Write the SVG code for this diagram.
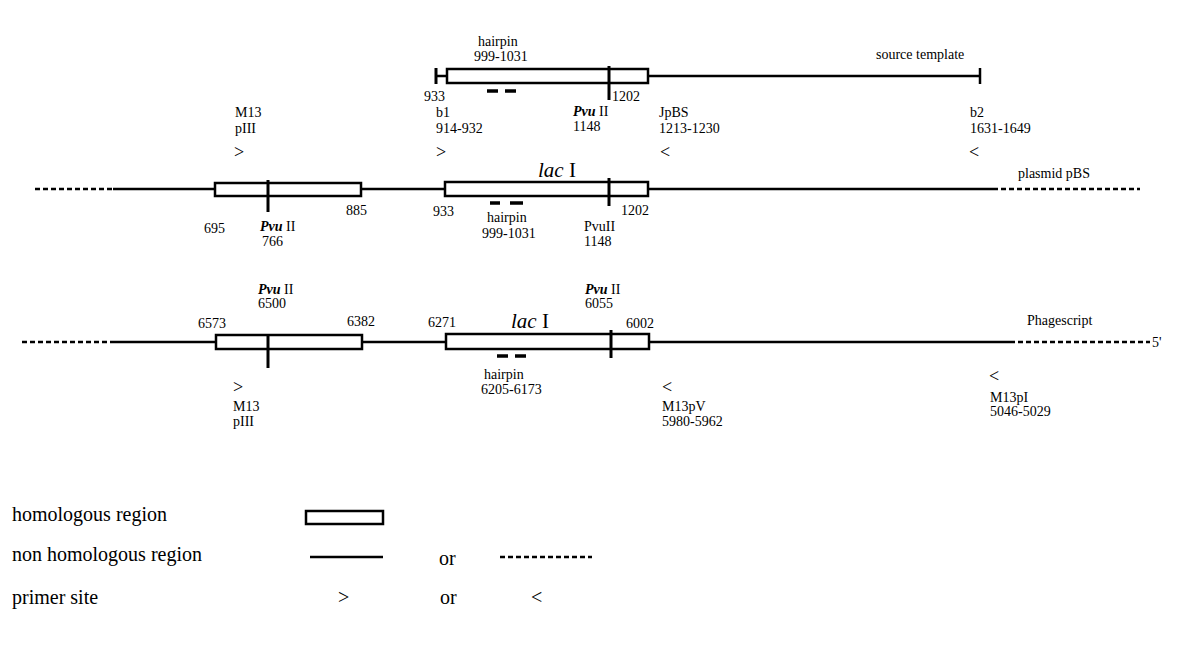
<svg xmlns="http://www.w3.org/2000/svg" width="1193" height="655" viewBox="0 0 1193 655">
<style>
text{font-family:"Liberation Serif",serif;font-size:14px;fill:#000}
.s{stroke:#000;stroke-width:2.5;fill:none}
.d{stroke:#000;stroke-width:2.5;stroke-dasharray:5,3;fill:none}
.b{stroke:#000;stroke-width:2.5;fill:#fff}
.v{stroke:#000;stroke-width:3}
.h{stroke:#000;stroke-width:3.5}
.lg{font-size:20px}
.pr{font-size:18px}
.lac{font-size:21px}
</style>
<rect width="1193" height="655" fill="#fff"/>
<g id="connectors">
<line class="s" x1="436" y1="76" x2="980" y2="76"/>
<line class="v" x1="436" y1="68" x2="436" y2="84"/>
<line class="s" x1="980" y1="68" x2="980" y2="84"/>
<line class="s" x1="113" y1="189" x2="993" y2="189"/>
<line class="d" x1="35" y1="189" x2="113" y2="189"/>
<line class="d" x1="993" y1="189" x2="1140" y2="189"/>
<line class="s" x1="113" y1="342" x2="1010" y2="342"/>
<line class="d" x1="22" y1="342" x2="113" y2="342"/>
<line class="d" x1="1010" y1="342" x2="1150" y2="342"/>
</g>
<g id="source-template">
<rect class="b" x="447" y="69" width="201" height="14"/>
<line class="v" x1="609" y1="66" x2="609" y2="100"/>
<line class="h" x1="487" y1="91" x2="498" y2="91"/><line class="h" x1="505" y1="91" x2="516" y2="91"/>
<text x="478" y="46">hairpin</text><text x="474" y="61">999-1031</text>
<text x="424" y="101">933</text><text x="612" y="101">1202</text>
<text x="876" y="59">source template</text>
</g>
<g id="primers-top">
<text x="235" y="117">M13</text><text x="235" y="133">pIII</text><text class="pr" x="234" y="158">&gt;</text>
<text x="436" y="117">b1</text><text x="436" y="133">914-932</text><text class="pr" x="436" y="158">&gt;</text>
<text x="573" y="116"><tspan font-style="italic" font-weight="bold">Pvu</tspan> II</text><text x="573" y="131">1148</text>
<text x="659" y="117">JpBS</text><text x="659" y="133">1213-1230</text><text class="pr" x="660" y="158">&lt;</text>
<text x="970" y="117">b2</text><text x="970" y="133">1631-1649</text><text class="pr" x="969" y="158">&lt;</text>
</g>
<g id="plasmid">
<rect class="b" x="215" y="183" width="146" height="13"/>
<line class="v" x1="268" y1="180" x2="268" y2="212"/>
<rect class="b" x="445" y="182" width="203" height="14"/>
<line class="v" x1="609" y1="178" x2="609" y2="206"/>
<line class="h" x1="490" y1="203" x2="500" y2="203"/><line class="h" x1="510" y1="203" x2="523" y2="203"/>
<text class="lac" x="538" y="177"><tspan font-style="italic">lac</tspan> I</text>
<text x="204" y="233">695</text><text x="260" y="231"><tspan font-style="italic" font-weight="bold">Pvu</tspan> II</text><text x="262" y="246">766</text>
<text x="346" y="215">885</text><text x="433" y="216">933</text>
<text x="487" y="222">hairpin</text><text x="482" y="238">999-1031</text>
<text x="621" y="215">1202</text><text x="584" y="231">PvuII</text><text x="584" y="246">1148</text>
<text x="1018" y="178">plasmid pBS</text>
</g>
<g id="phagescript">
<rect class="b" x="216" y="335" width="146" height="14"/>
<line class="v" x1="268" y1="335" x2="268" y2="368"/>
<rect class="b" x="446" y="334" width="203" height="15"/>
<line class="v" x1="611" y1="330" x2="611" y2="358"/>
<line class="h" x1="497" y1="356" x2="508" y2="356"/><line class="h" x1="515" y1="356" x2="526" y2="356"/>
<text x="258" y="294"><tspan font-style="italic" font-weight="bold">Pvu</tspan> II</text><text x="258" y="308">6500</text>
<text x="198" y="328">6573</text><text x="347" y="326">6382</text><text x="428" y="327">6271</text>
<text class="lac" x="511" y="328"><tspan font-style="italic">lac</tspan> I</text>
<text x="585" y="294"><tspan font-style="italic" font-weight="bold">Pvu</tspan> II</text><text x="585" y="308">6055</text>
<text x="626" y="328">6002</text>
<text x="1027" y="325">Phagescript</text><text x="1152" y="347">5'</text>
<text x="484" y="379">hairpin</text><text x="481" y="394">6205-6173</text>
<text class="pr" x="233" y="393">&gt;</text><text x="233" y="411">M13</text><text x="233" y="426">pIII</text>
<text class="pr" x="662" y="393">&lt;</text><text x="662" y="411">M13pV</text><text x="662" y="426">5980-5962</text>
<text class="pr" x="989" y="382">&lt;</text><text x="990" y="402">M13pI</text><text x="990" y="416">5046-5029</text>
</g>
<g id="legend">
<text class="lg" x="12" y="521">homologous region</text>
<rect class="b" x="306" y="511" width="77" height="13"/>
<text class="lg" x="12" y="561">non homologous region</text>
<line class="s" x1="310" y1="557" x2="383" y2="557"/>
<text class="lg" x="439" y="565">or</text>
<line class="d" x1="500" y1="557" x2="592" y2="557"/>
<text class="lg" x="12" y="604">primer site</text>
<text class="lg" x="338" y="604">&gt;</text>
<text class="lg" x="440" y="604">or</text>
<text class="lg" x="531" y="604">&lt;</text>
</g>
</svg>
